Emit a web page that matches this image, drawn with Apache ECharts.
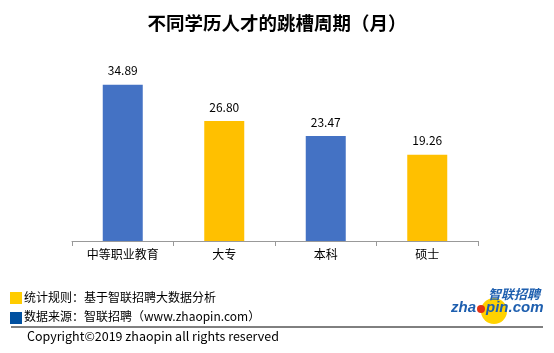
<!DOCTYPE html>
<html>
<head>
<meta charset="utf-8">
<script src="https://cdn.jsdelivr.net/npm/echarts@6/dist/echarts.min.js"></script>
<style>
  html, body { margin: 0; padding: 0; background: #fff; }
  #main { width: 554px; height: 353px; }
</style>
</head>
<body>
<div id="main"></div>
<script>
  // 学历类别与跳槽周期（月）
  var categories = ['中等职业教育', '大专', '本科', '硕士']
  var months = [34.89, 26.80, 23.47, 19.26]
  var barColors = ['#4472C4', '#FFC000', '#4472C4', '#FFC000']

  var chart = echarts.init(document.getElementById('main'))
  var font = '"Microsoft YaHei", "Noto Sans CJK SC", sans-serif'

  var option = {
    animation: false,
    title: {
      text: '不同学历人才的跳槽周期（月）',
      left: 'center',
      top: 9,
      textStyle: {fontSize: 18.5, fontWeight: 'bold', color: '#000', fontFamily: font}
    },
    grid: {left: 72, right: 76, top: 62, bottom: 112},
    xAxis: {
      type: 'category',
      data: categories,
      axisLine: {lineStyle: {color: '#999', width: 1}},
      axisTick: {show: true, alignWithLabel: false, length: 5, lineStyle: {color: '#999'}},
      axisLabel: {color: '#000', fontSize: 12, margin: 7, fontFamily: font}
    },
    yAxis: {
      type: 'value',
      min: 0,
      max: 40,
      show: false,
      splitLine: {show: false}
    },
    series: [
      {
        type: 'bar',
        barWidth: 40,
        data: months.map(function (v, i) {
          return {value: v, itemStyle: {color: barColors[i]}}
        }),
        label: {
          show: true,
          position: 'top',
          distance: 8,
          color: '#000',
          fontSize: 12,
          fontFamily: font,
          formatter: function (p) { return p.value.toFixed(2) }
        }
      }
    ],
    graphic: [
      {type: 'rect', shape: {x: 10, y: 292, width: 12, height: 12}, style: {fill: '#FFCC00'}},
      {type: 'text', left: 24, top: 291, style: {text: '统计规则：基于智联招聘大数据分析', fill: '#000', font: '12px ' + font}},
      {type: 'rect', shape: {x: 10, y: 312, width: 12, height: 12}, style: {fill: '#0050A0'}},
      {type: 'text', left: 24, top: 310, style: {text: '数据来源：智联招聘（www.zhaopin.com）', fill: '#000', font: '12px ' + font}},
      {type: 'line', shape: {x1: 11, y1: 327, x2: 543, y2: 327}, style: {stroke: '#000', lineWidth: 1}},
      {type: 'text', left: 27, top: 330, style: {text: 'Copyright©2019 zhaopin all rights reserved', fill: '#000', font: '12.5px ' + font}},
      // logo
      {type: 'circle', shape: {cx: 494, cy: 311, r: 13}, style: {fill: '#FFD200'}},
      {type: 'circle', shape: {cx: 481, cy: 309, r: 4}, style: {fill: '#E53212'}},
      {type: 'text', left: 451, top: 300, style: {text: 'zha', fill: '#1E5FAF', font: 'italic bold 15px Arial, sans-serif'}},
      {type: 'text', left: 486, top: 300, style: {text: 'pin.com', fill: '#1E5FAF', font: 'italic bold 15px Arial, sans-serif'}},
      {type: 'text', left: 488, top: 288, style: {text: '智联招聘', fill: '#1E5FAF', font: 'italic bold 13px ' + font}}
    ]
  }
  chart.setOption(option)
</script>
</body>
</html>
